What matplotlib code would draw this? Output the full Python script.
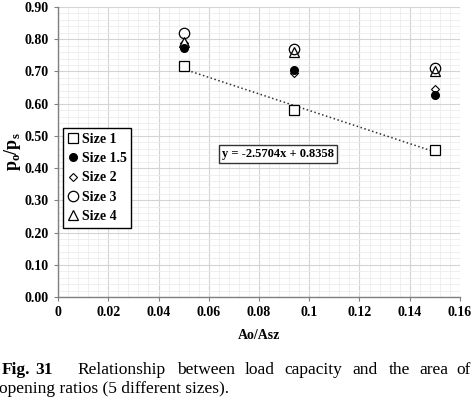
import numpy as np
import matplotlib.pyplot as plt
from matplotlib.ticker import MultipleLocator

# data
ratio = [0.05, 0.094, 0.15]
size1 = [0.716, 0.579, 0.457]
size15 = [0.772, 0.703, 0.627]
size2 = [0.788, 0.695, 0.645]
size3 = [0.818, 0.770, 0.710]
size4 = [0.792, 0.760, 0.700]
xticks = [0, 0.02, 0.04, 0.06, 0.08, 0.1, 0.12, 0.14, 0.16]
xticklabels = ['0', '0.02', '0.04', '0.06', '0.08', '0.1', '0.12', '0.14', '0.16']

plt.rcParams['font.family'] = ['Liberation Serif', 'DejaVu Serif']

fig = plt.figure(figsize=(4.74, 3.97), dpi=100)
ax = fig.add_axes([58/474, 1-297/397, 402/474, 290/397])

ax.set_xlim(0, 0.16)
ax.set_ylim(0, 0.90)
ax.set_xticks(xticks)
ax.set_xticklabels(xticklabels)
ax.set_yticks(np.arange(0, 0.91, 0.1))
ax.set_yticklabels(['%.2f' % v for v in np.arange(0, 0.91, 0.1)])
ax.xaxis.set_minor_locator(MultipleLocator(0.004))
ax.yaxis.set_minor_locator(MultipleLocator(0.02))
ax.grid(which='major', color='#d4d4d4', lw=0.8)
ax.grid(which='minor', color='#ececec', lw=0.6)
ax.set_axisbelow(True)
ax.tick_params(which='minor', length=0)
ax.tick_params(which='major', length=3, width=0.8, color='#808080', labelsize=10)
for lab in ax.get_xticklabels() + ax.get_yticklabels():
    lab.set_fontweight('bold')
for s in ['top', 'right']:
    ax.spines[s].set_visible(False)
for s in ['left', 'bottom']:
    ax.spines[s].set_color('#808080')
    ax.spines[s].set_linewidth(1.0)

# trend line fitted to size 1
k, b = np.polyfit(ratio, size1, 1)
xs = np.array([ratio[0], ratio[-1]])
ax.plot(xs, k*xs + b, color='#333333', ls=':', lw=1.1, zorder=2)

ms = 6.5
ax.plot(ratio, size1, 's', mfc='white', mec='black', mew=0.9, ms=ms, label='Size 1', zorder=3)
ax.plot(ratio, size2, 'D', mfc='white', mec='black', mew=0.8, ms=4.5, label='Size 2', zorder=3)
ax.plot(ratio, size15, 'o', mfc='black', mec='black', ms=5.5, label='Size 1.5', zorder=4)
ax.plot(ratio, size4, '^', mfc='white', mec='black', mew=0.9, ms=ms, label='Size 4', zorder=3)
ax.plot(ratio, size3, 'o', mfc='none', mec='black', mew=0.9, ms=7.5, label='Size 3', zorder=5)

handles, labels = ax.get_legend_handles_labels()
order = [labels.index(n) for n in ['Size 1', 'Size 1.5', 'Size 2', 'Size 3', 'Size 4']]
leg = ax.legend([handles[i] for i in order], [labels[i] for i in order],
                loc='upper left', bbox_to_anchor=(63/474, 1-128/397),
                bbox_transform=fig.transFigure, fancybox=False, framealpha=1,
                edgecolor='black', handlelength=0.8, handletextpad=0.2,
                labelspacing=0.45, borderpad=0.35, borderaxespad=0,
                prop={'weight': 'bold', 'size': 10})
leg.get_frame().set_linewidth(1.0)

ax.text(0.0876, 0.444, 'y = -2.5704x + 0.8358', ha='center', va='center',
        fontsize=9, fontweight='bold',
        bbox=dict(boxstyle='square,pad=0.25', fc='white', ec='#333333', lw=1.0))

ax.set_xlabel('Ao/Asz', fontsize=10, fontweight='bold', labelpad=7)
ax.set_ylabel('p$_\\mathregular{o}$/p$_\\mathregular{s}$', fontsize=13, fontweight='bold', labelpad=1)

# caption, justified first line
cap_y1 = 1 - 370/397
cap_y2 = 1 - 389/397
fig.text(2/474, cap_y1, 'Fig.', fontsize=12.5, fontweight='bold', va='center', ha='left')
fig.text(35/474, cap_y1, '31', fontsize=12.5, fontweight='bold', va='center', ha='left')
words = ['Relationship', 'between', 'load', 'capacity', 'and', 'the', 'area', 'of']
word_x = [77, 177, 245, 284, 352, 389, 419, 456]
for w, wx in zip(words, word_x):
    fig.text(wx/474, cap_y1, w, fontsize=12.5, va='center', ha='left')
fig.text(-1/474, cap_y2, 'opening ratios (5 different sizes).', fontsize=12.5, va='center', ha='left')

fig.savefig('out.png', dpi=100)
